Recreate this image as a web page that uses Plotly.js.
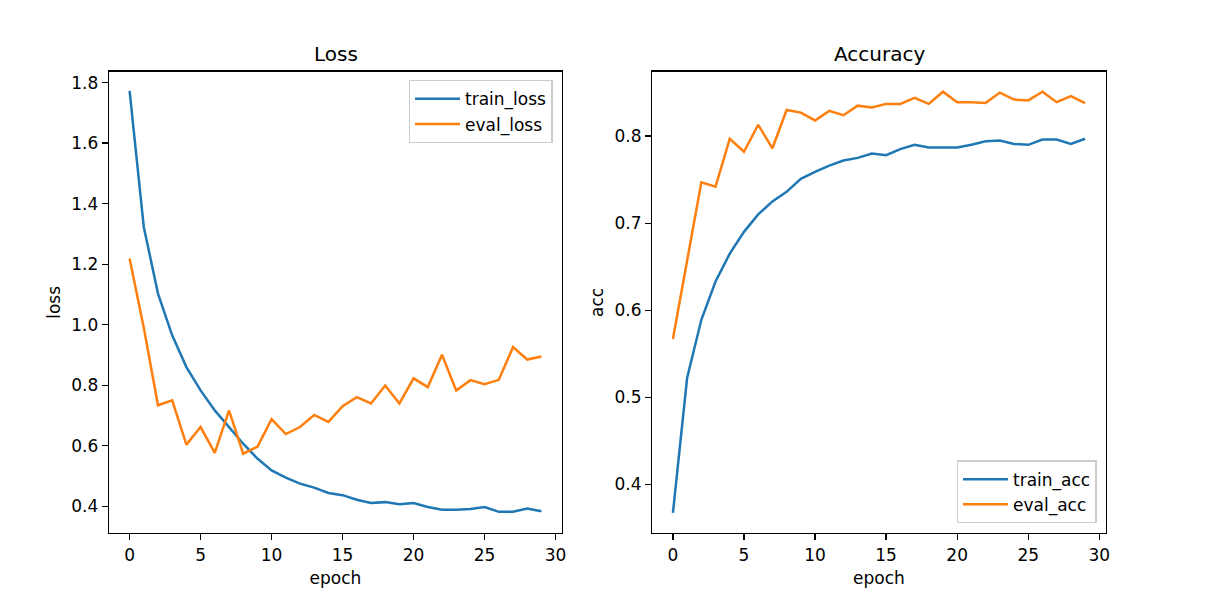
<!DOCTYPE html>
<html>
<head>
<meta charset="utf-8">
<script src="https://cdn.plot.ly/plotly-3.0.1.min.js"></script>
<style>html,body{margin:0;padding:0;background:#fff;}#chart{width:1221px;height:597px;}</style>
</head>
<body>
<div id="chart"></div>
<script>
const epochs = Array.from({length: 30}, (_, i) => i);

const trainLoss = [1.773, 1.323, 1.103, 0.965, 0.860, 0.783, 0.717, 0.662, 0.607, 0.558,
  0.519, 0.495, 0.475, 0.462, 0.444, 0.437, 0.422, 0.411, 0.414, 0.407,
  0.411, 0.398, 0.389, 0.389, 0.391, 0.398, 0.382, 0.382, 0.393, 0.384];
const evalLoss = [1.219, 0.990, 0.734, 0.750, 0.604, 0.662, 0.577, 0.717, 0.574, 0.597,
  0.688, 0.639, 0.662, 0.702, 0.679, 0.731, 0.761, 0.740, 0.799, 0.740,
  0.823, 0.794, 0.901, 0.783, 0.817, 0.804, 0.818, 0.926, 0.885, 0.895];
const trainAcc = [0.367, 0.522, 0.589, 0.633, 0.665, 0.690, 0.710, 0.725, 0.736, 0.751,
  0.759, 0.766, 0.772, 0.775, 0.780, 0.778, 0.785, 0.790, 0.787, 0.787,
  0.787, 0.790, 0.794, 0.795, 0.791, 0.790, 0.796, 0.796, 0.791, 0.797];
const evalAcc = [0.567, 0.658, 0.747, 0.742, 0.797, 0.782, 0.813, 0.786, 0.830, 0.827,
  0.818, 0.829, 0.824, 0.835, 0.833, 0.837, 0.837, 0.844, 0.837, 0.851,
  0.839, 0.839, 0.838, 0.850, 0.842, 0.841, 0.851, 0.839, 0.846, 0.838];

const blue = '#1f77b4', orange = '#ff7f0e';
const font = 'DejaVu Sans, sans-serif';
const FS = 17;

const traces = [
  {x: epochs, y: trainLoss, name: 'train_loss', type: 'scatter', mode: 'lines', line: {color: blue, width: 2.5}, xaxis: 'x', yaxis: 'y', legend: 'legend'},
  {x: epochs, y: evalLoss, name: 'eval_loss', type: 'scatter', mode: 'lines', line: {color: orange, width: 2.5}, xaxis: 'x', yaxis: 'y', legend: 'legend'},
  {x: epochs, y: trainAcc, name: 'train_acc', type: 'scatter', mode: 'lines', line: {color: blue, width: 2.5}, xaxis: 'x2', yaxis: 'y2', legend: 'legend2'},
  {x: epochs, y: evalAcc, name: 'eval_acc', type: 'scatter', mode: 'lines', line: {color: orange, width: 2.5}, xaxis: 'x2', yaxis: 'y2', legend: 'legend2'}
];

const axBase = {
  showline: true, mirror: true, linecolor: '#000', linewidth: 1.3,
  showgrid: false, zeroline: false,
  ticks: 'outside', ticklen: 6, tickwidth: 1.3, tickcolor: '#000',
  tickfont: {family: font, size: FS, color: '#000'}
};

const W = 1221, H = 597;
const layout = {
  width: W, height: H,
  margin: {l: 0, r: 0, t: 0, b: 0},
  paper_bgcolor: '#fff', plot_bgcolor: '#fff',
  font: {family: font, color: '#000'},
  showlegend: true,
  xaxis: Object.assign({}, axBase, {domain: [109/W, 562/W], range: [-1.45, 30.45], dtick: 5, tick0: 0,
    title: {text: 'epoch', font: {family: font, size: FS, color: '#000'}, standoff: 8}, anchor: 'y'}),
  yaxis: Object.assign({}, axBase, {domain: [1 - 533/H, 1 - 71.7/H], range: [0.312, 1.836], dtick: 0.2, tick0: 0, tickformat: '.1f',
    title: {text: 'loss', font: {family: font, size: FS, color: '#000'}, standoff: 6}, anchor: 'x'}),
  xaxis2: Object.assign({}, axBase, {domain: [652.3/W, 1105.7/W], range: [-1.45, 30.45], dtick: 5, tick0: 0,
    title: {text: 'epoch', font: {family: font, size: FS, color: '#000'}, standoff: 8}, anchor: 'y2'}),
  yaxis2: Object.assign({}, axBase, {domain: [1 - 533/H, 1 - 71.7/H], range: [0.344, 0.874], dtick: 0.1, tick0: 0, tickformat: '.1f',
    title: {text: 'acc', font: {family: font, size: FS, color: '#000'}, standoff: 6}, anchor: 'x2'}),
  legend: {x: 552.7/W, y: 1 - 80/H, xanchor: 'right', yanchor: 'top', bgcolor: 'rgba(255,255,255,0.8)',
    bordercolor: '#cccccc', borderwidth: 1.3, font: {family: font, size: FS, color: '#000'}, tracegroupgap: 0, itemwidth: 45},
  legend2: {x: 1096.7/W, y: 1 - 523.3/H, xanchor: 'right', yanchor: 'bottom', bgcolor: 'rgba(255,255,255,0.8)',
    bordercolor: '#cccccc', borderwidth: 1.3, font: {family: font, size: FS, color: '#000'}, tracegroupgap: 0, itemwidth: 45},
  annotations: [
    {text: 'Loss', xref: 'paper', yref: 'paper', x: (109 + 562) / 2 / W, y: 1 - 68/H, xanchor: 'center', yanchor: 'bottom', showarrow: false,
      font: {family: font, size: 20, color: '#000'}},
    {text: 'Accuracy', xref: 'paper', yref: 'paper', x: (652.3 + 1105.7) / 2 / W, y: 1 - 68/H, xanchor: 'center', yanchor: 'bottom', showarrow: false,
      font: {family: font, size: 20, color: '#000'}}
  ]
};

Plotly.newPlot('chart', traces, layout, {displayModeBar: false, staticPlot: true});
</script>
</body>
</html>
